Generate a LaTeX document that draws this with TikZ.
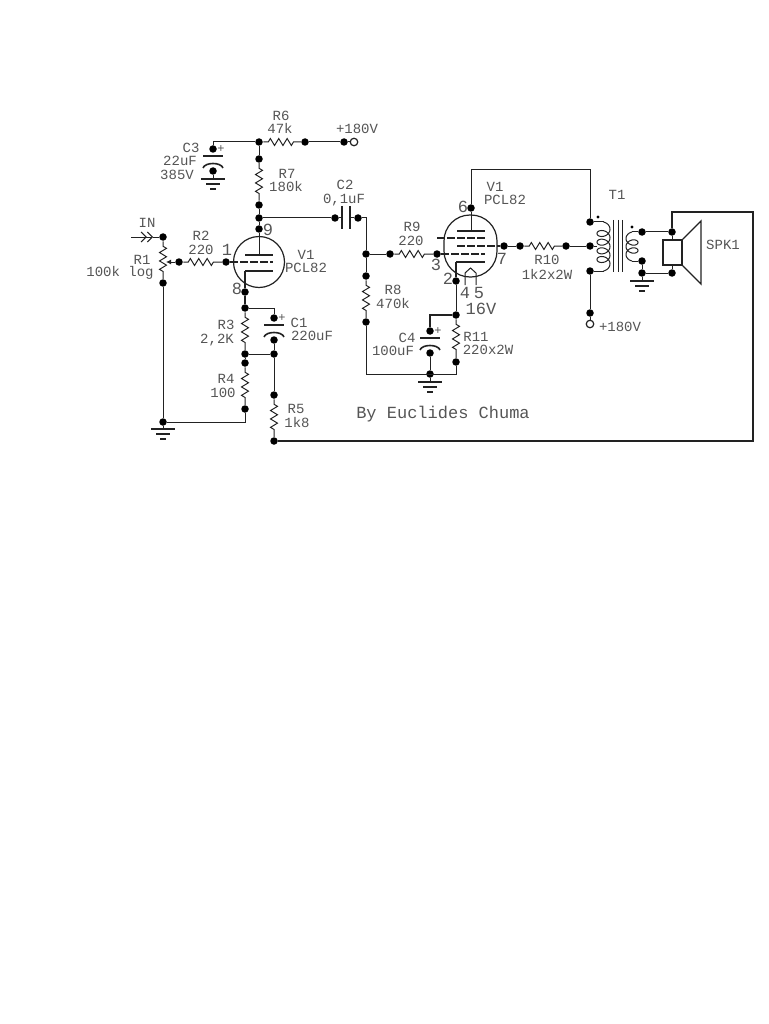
\documentclass[tikz,border=0pt]{standalone}
\usepackage{fontspec}
\setmonofont{Liberation Mono}
\usetikzlibrary{arrows.meta, decorations.pathmorphing}
\definecolor{inkgray}{HTML}{555555}
\definecolor{wire}{HTML}{222222}

\begin{document}
\begin{tikzpicture}[
    x=1pt, y=-1pt,
    % GLOBAL CFG
    line width=1pt,
    draw=wire,
    % Styles
    pin/.style={% For solder dots
        circle,
        fill=black,
        draw=none,
        inner sep=0pt,
        minimum size=7.5pt,
    },
    openpin/.style={% For supply terminals
        circle,
        fill=white,
        draw=wire,
        line width=1.2pt,
        inner sep=0pt,
        minimum size=7.5pt,
    },
    res/.style={% Zigzag for resistors
        decorate,
        decoration={zigzag, segment length=8.4pt, amplitude=3.5pt, pre length=5pt, post length=5pt},
    },
    mylabel/.style={
        text=inkgray,
        inner sep=0pt,
        font=\fontsize{14}{14}\selectfont\ttfamily,
    },
    pinlabel/.style={
        text=inkgray,
        inner sep=0pt,
        font=\fontsize{17}{17}\selectfont\ttfamily,
    },
    plus/.style={
        text=inkgray,
        inner sep=0pt,
        font=\fontsize{12}{12}\selectfont\ttfamily,
    },
    electrode/.style={% Thick grids and plates in the tubes
        line width=1.5pt,
    },
    gridline/.style={
        line width=1.5pt,
        dash pattern=on 8pt off 2pt,
    },
    cathode/.style={
        line width=2.6pt,
    },
    tube/.style={
        draw=wire,
        line width=1.2pt,
    },
    gnd/.pic={% Ground symbol
        \draw[line width=1.3pt] (-12,0) -- (12,0);
        \draw[line width=1.3pt] (-7,5) -- (7,5);
        \draw[line width=1.5pt] (-3,10) -- (3,10);
    },
    polcap/.pic={% Polarised capacitor, origin at straight plate
        \draw[line width=1.3pt] (-10,0) -- (10,0);
        \draw[line width=1.6pt] (-10,12) .. controls (-8,6) and (8,6) .. (10,12);
    },
    ]
    \useasboundingbox (0,0) rectangle (768,1024);

    % Draw input stage dots
    \node[pin] (c3a) at (213,149) {};
    \node[pin] (c3b) at (213,171) {};
    \node[pin] (r6a) at (259,142) {};
    \node[pin] (r6b) at (305,142) {};
    \node[pin] (sup1) at (344,142) {};
    \node[openpin] (term1) at (354,142) {};
    \node[pin] (r7a) at (259,159) {};
    \node[pin] (r7b) at (259,205) {};
    \node[pin] (anode) at (259,218) {};
    \node[pin] (p9) at (259,229) {};
    \node[pin] (r1a) at (163,237) {};
    \node[pin] (r1b) at (163,283) {};
    \node[pin] (r2a) at (179,262) {};
    \node[pin] (r2b) at (226,262) {};
    \node[pin] (p8) at (245,292) {};
    \node[pin] (r3a) at (245,308) {};
    \node[pin] (r3b) at (245,354) {};
    \node[pin] (r4a) at (245,363) {};
    \node[pin] (r4b) at (245,409) {};
    \node[pin] (gnd1) at (163,422) {};
    \node[pin] (c1a) at (274,318) {};
    \node[pin] (c1b) at (274,340) {};
    \node[pin] (c1c) at (274,354) {};
    \node[pin] (r5a) at (274,395) {};
    \node[pin] (r5b) at (274,441) {};

    % Draw output stage dots
    \node[pin] (c2a) at (335,218) {};
    \node[pin] (c2b) at (358,218) {};
    \node[pin] (gjoin) at (366,254) {};
    \node[pin] (r9a) at (390,254) {};
    \node[pin] (r9b) at (437,254) {};
    \node[pin] (r8a) at (366,276) {};
    \node[pin] (r8b) at (366,322) {};
    \node[pin] (p6) at (471,208) {};
    \node[pin] (p2) at (456,281) {};
    \node[pin] (r11a) at (456,315) {};
    \node[pin] (r11b) at (456,362) {};
    \node[pin] (c4a) at (430,331) {};
    \node[pin] (c4b) at (430,353) {};
    \node[pin] (gnd2) at (430,374) {};
    \node[pin] (p7) at (504,246) {};
    \node[pin] (r10a) at (520,246) {};
    \node[pin] (r10b) at (566,246) {};
    \node[pin] (tp1) at (590,222) {};
    \node[pin] (tp2) at (590,246) {};
    \node[pin] (tp3) at (590,271) {};
    \node[pin] (sup2) at (590,313) {};
    \node[openpin] (term2) at (590,324) {};
    \node[pin] (ts1) at (642,232) {};
    \node[pin] (ts2) at (642,261) {};
    \node[pin] (ts3) at (642,273) {};
    \node[pin] (spk1) at (672,232) {};
    \node[pin] (spk2) at (672,273) {};

    % Coordinates
    \coordinate (c3top) at (213,142);
    \coordinate (gnd1foot) at (245,422);
    \coordinate (fbdown) at (753,441);
    \coordinate (fbup) at (753,212);
    \coordinate (fbleft) at (672,212);
    \coordinate (c2turn) at (366,218);
    \coordinate (gndleft) at (366,374);
    \coordinate (gndright) at (456,374);
    \coordinate (tptop) at (590,170);
    \coordinate (p6top) at (471,170);
    \coordinate (c1turn) at (274,308);
    \coordinate (instart) at (131,237);
    \coordinate (inmid) at (153,237);
    \coordinate (wiper) at (166,262);
    \coordinate (c2p1a) at (342,206);
    \coordinate (c2p1b) at (342,229);
    \coordinate (c2p2a) at (350,206);
    \coordinate (c2p2b) at (350,229);

    % Tubes
    \node[tube, circle, minimum size=51pt, inner sep=0pt] (tube1) at (259,262) {};
    \node[tube, rectangle, rounded corners=26pt, minimum width=53pt, minimum height=62pt, inner sep=0pt] (tube2) at (470.5,246) {};

    % Coordinates in tube 1
    \coordinate (v1pl) at (245,255);
    \coordinate (v1pc) at (259,255);
    \coordinate (v1pr) at (273,255);
    \coordinate (v1g) at (273,262);
    \coordinate (v1kl) at (245,271);
    \coordinate (v1kr) at (273,271);

    % Coordinates in tube 2
    \coordinate (v2pl) at (457,231);
    \coordinate (v2pc) at (471,231);
    \coordinate (v2pr) at (485,231);
    \coordinate (v2g1a) at (437,238);
    \coordinate (v2g1b) at (485,238);
    \coordinate (v2g2a) at (457,246);
    \coordinate (v2g3b) at (485,254);
    \coordinate (v2kl) at (456,262);
    \coordinate (v2kr) at (485,262);
    \coordinate (heat1) at (465,285);
    \coordinate (heat2) at (465,273);
    \coordinate (heat3) at (470.5,268);
    \coordinate (heat4) at (476,273);
    \coordinate (heat5) at (476,285);

    % Connect all
    \draw (c3b) -- (213,179);
    \draw (c3a) -- (c3top) -- (r6a);
    \draw (r6a) -- (r7a);
    \draw[res] (r6a) -- (r6b);
    \draw (r6b) -- (sup1) -- (term1);
    \draw[res] (r7a) -- (r7b);
    \draw (r7b) -- (anode) -- (p9) -- (v1pc);
    \draw (anode) -- (c2a);
    \draw (c2b) -- (c2turn) -- (gjoin);
    \draw (gjoin) -- (r9a);
    \draw[res] (r9a) -- (r9b);
    \draw (gjoin) -- (r8a);
    \draw[res] (r8a) -- (r8b);
    \draw (r8b) -- (gndleft) -- (gndright) -- (r11b);
    \draw[res] (r11a) -- (r11b);
    \draw (p2) -- (r11a);
    \draw[line width=1.8pt] (r11a) -| (c4a);
    \draw (c4b) -- (gnd2) -- (430,382);
    \draw[line width=1.3pt] (c2p1a) -- (c2p1b);
    \draw[line width=1.3pt] (c2p2a) -- (c2p2b);
    \draw (c2a) -- (c2p1a |- c2a);
    \draw (c2b) -- (c2p2a |- c2b);

    % Input
    \draw[-{Straight Barb[length=5pt,width=10pt]Straight Barb[length=5pt,width=10pt]}] (instart) -- (inmid);
    \draw (inmid) -- (r1a);
    \draw[res] (r1a) -- (r1b);
    \draw[-{Latex[length=5pt,width=5pt]}] (r2a) -- (wiper);
    \draw[res] (r2a) -- (r2b);
    \draw[gridline] (r2b) -- (v1g);
    \draw[electrode] (v1pl) -- (v1pr);
    \draw[cathode] (v1kl) -- (v1kr);
    \draw[line width=1.8pt] (v1kl) -- (p8);
    \draw[line width=1.4pt] (p8) -- (r3a);
    \draw (r1b) -- (gnd1) -- (163,429);
    \draw (gnd1) -- (gnd1foot) -- (r4b);
    \draw[res] (r4a) -- (r4b);
    \draw (r3b) -- (r4a);
    \draw[res] (r3a) -- (r3b);
    \draw (r3a) -- (c1turn) -- (c1a);
    \draw (r3b) -- (c1c);
    \draw (c1b) -- (c1c) -- (r5a);
    \draw[res] (r5a) -- (r5b);
    \draw[line width=1.4pt] (r5b) -- (fbdown) -- (fbup) -- (fbleft) -- (spk1);

    % Output tube
    \draw (p6) -- (v2pc);
    \draw[electrode] (v2pl) -- (v2pr);
    \draw[gridline] (v2g1a) -- (v2g1b);
    \draw[gridline] (v2g2a) -- (p7);
    \draw[gridline] (r9b) -- (v2g3b);
    \draw[cathode] (v2kl) -- (v2kr);
    \draw[line width=1.8pt] (v2kl) -- (p2);
    \draw (heat1) -- (heat2) -- (heat3) -- (heat4) -- (heat5);
    \draw (p6) -- (p6top) -- (tptop) -- (tp1);
    \draw (p7) -- (r10a);
    \draw[res] (r10a) -- (r10b);
    \draw (r10b) -- (tp2);

    % Transformer
    \coordinate (pritop) at (603.5,222);
    \coordinate (pribot) at (603.5,271);
    \coordinate (sectop) at (632,232);
    \coordinate (secbot) at (632,261);
    \draw (tp1) -- (pritop);
    \draw (tp3) -- (pribot);
    \draw (tp2) -- (597,246);
    \draw plot[smooth, domain=0:1620, samples=109] ({603.5+6.5*sin(\x)},{227+8.67*\x/360-5*cos(\x)});
    \draw (ts1) -- (sectop);
    \draw (ts2) -- (secbot);
    \draw plot[smooth, domain=0:900, samples=61] ({632-6*sin(\x)},{236.5+8*\x/360-4.5*cos(\x)});
    \coordinate (core1a) at (613,220);
    \coordinate (core1b) at (613,272);
    \coordinate (core2a) at (618,220);
    \coordinate (core2b) at (618,272);
    \coordinate (core3a) at (622,220);
    \coordinate (core3b) at (622,272);
    \draw (core1a) -- (core1b);
    \draw (core2a) -- (core2b);
    \draw (core3a) -- (core3b);
    \fill (598,217) circle (1.6pt);
    \fill (632,227) circle (1.6pt);
    \draw (tp3) -- (sup2) -- (term2);
    \draw (ts1) -- (spk1);
    \draw (ts2) -- (ts3) -- (642,281);
    \draw (ts3) -- (spk2);

    % Speaker
    \node[draw=wire, line width=1.5pt, minimum width=19pt, minimum height=25pt, inner sep=0pt] (spkbox) at (672.5,252.5) {};
    \coordinate (cone1) at (701,221);
    \coordinate (cone2) at (701,284);
    \draw[line width=1.3pt] (spkbox.north east) -- (cone1) -- (cone2) -- (spkbox.south east);
    \draw (spk1) -- (spk1 |- spkbox.north);
    \draw (spk2) -- (spk2 |- spkbox.south);

    % Capacitors and grounds
    \pic at (213,156) {polcap};
    \pic at (274,325) {polcap};
    \pic at (430,338) {polcap};
    \pic at (213,179) {gnd};
    \pic at (163,429) {gnd};
    \pic at (430,382) {gnd};
    \pic at (642,281) {gnd};

    % Labels
    \node[mylabel] (lR6) at (281,116) {R6};
    \node[mylabel] (vR6) at (280,128) {47k};
    \node[mylabel] (lC3) at (191,148) {C3};
    \node[mylabel] (vC3a) at (180,161) {22uF};
    \node[mylabel] (vC3b) at (177,175) {385V};
    \node[plus] (pC3) at (221,149) {+};
    \node[mylabel] (lterm1) at (357,129) {+180V};
    \node[mylabel] (lR7) at (287,174) {R7};
    \node[mylabel] (vR7) at (286,186) {180k};
    \node[mylabel] (lIN) at (147,223) {IN};
    \node[mylabel] (lR2) at (201,236) {R2};
    \node[mylabel] (vR2) at (201,250) {220};
    \node[mylabel] (lR1) at (142,260) {R1};
    \node[mylabel] (vR1) at (120,273) {100k log};
    \node[pinlabel] (n9) at (268,230) {9};
    \node[pinlabel] (n1) at (227,250) {1};
    \node[pinlabel] (n8) at (237,289) {8};
    \node[mylabel] (lV1) at (306,255) {V1};
    \node[mylabel] (vV1) at (306,268) {PCL82};
    \node[mylabel] (lC1) at (299,323) {C1};
    \node[mylabel] (vC1) at (312,336) {220uF};
    \node[plus] (pC1) at (282,318) {+};
    \node[mylabel] (lR3) at (226,325) {R3};
    \node[mylabel] (vR3) at (217,340) {2,2K};
    \node[mylabel] (lR4) at (226,379) {R4};
    \node[mylabel] (vR4) at (223,393) {100};
    \node[mylabel] (lR5) at (296,409) {R5};
    \node[mylabel] (vR5) at (297,422) {1k8};
    \node[mylabel] (lC2) at (345,185) {C2};
    \node[mylabel] (vC2) at (344,200) {0,1uF};
    \node[mylabel] (lR9) at (412,227) {R9};
    \node[mylabel] (vR9) at (411,241) {220};
    \node[mylabel] (lR8) at (393,290) {R8};
    \node[mylabel] (vR8) at (393,303) {470k};
    \node[mylabel] (lC4) at (407,338) {C4};
    \node[mylabel] (vC4) at (393,351) {100uF};
    \node[plus] (pC4) at (438,331) {+};
    \node[mylabel] (lR11) at (476,337) {R11};
    \node[mylabel] (vR11) at (488,350) {220x2W};
    \node[mylabel] (lV2) at (495,187) {V1};
    \node[mylabel] (vV2) at (505,200) {PCL82};
    \node[pinlabel] (n6) at (463,207) {6};
    \node[pinlabel] (n3) at (436,265) {3};
    \node[pinlabel] (n2) at (448,279) {2};
    \node[pinlabel] (n7) at (502,259) {7};
    \node[pinlabel] (n4) at (465,293) {4};
    \node[pinlabel] (n5) at (479,293) {5};
    \node[pinlabel] (l16V) at (481,309) {16V};
    \node[mylabel] (lR10) at (547,260) {R10};
    \node[mylabel] (vR10) at (547,274) {1k2x2W};
    \node[mylabel] (lT1) at (617,195) {T1};
    \node[mylabel] (lSPK) at (723,245) {SPK1};
    \node[mylabel] (lterm2) at (620,327) {+180V};
    \node[mylabel, font=\fontsize{17}{17}\selectfont\ttfamily] (lBy) at (443,414) {By Euclides Chuma};

\end{tikzpicture}
\end{document}
